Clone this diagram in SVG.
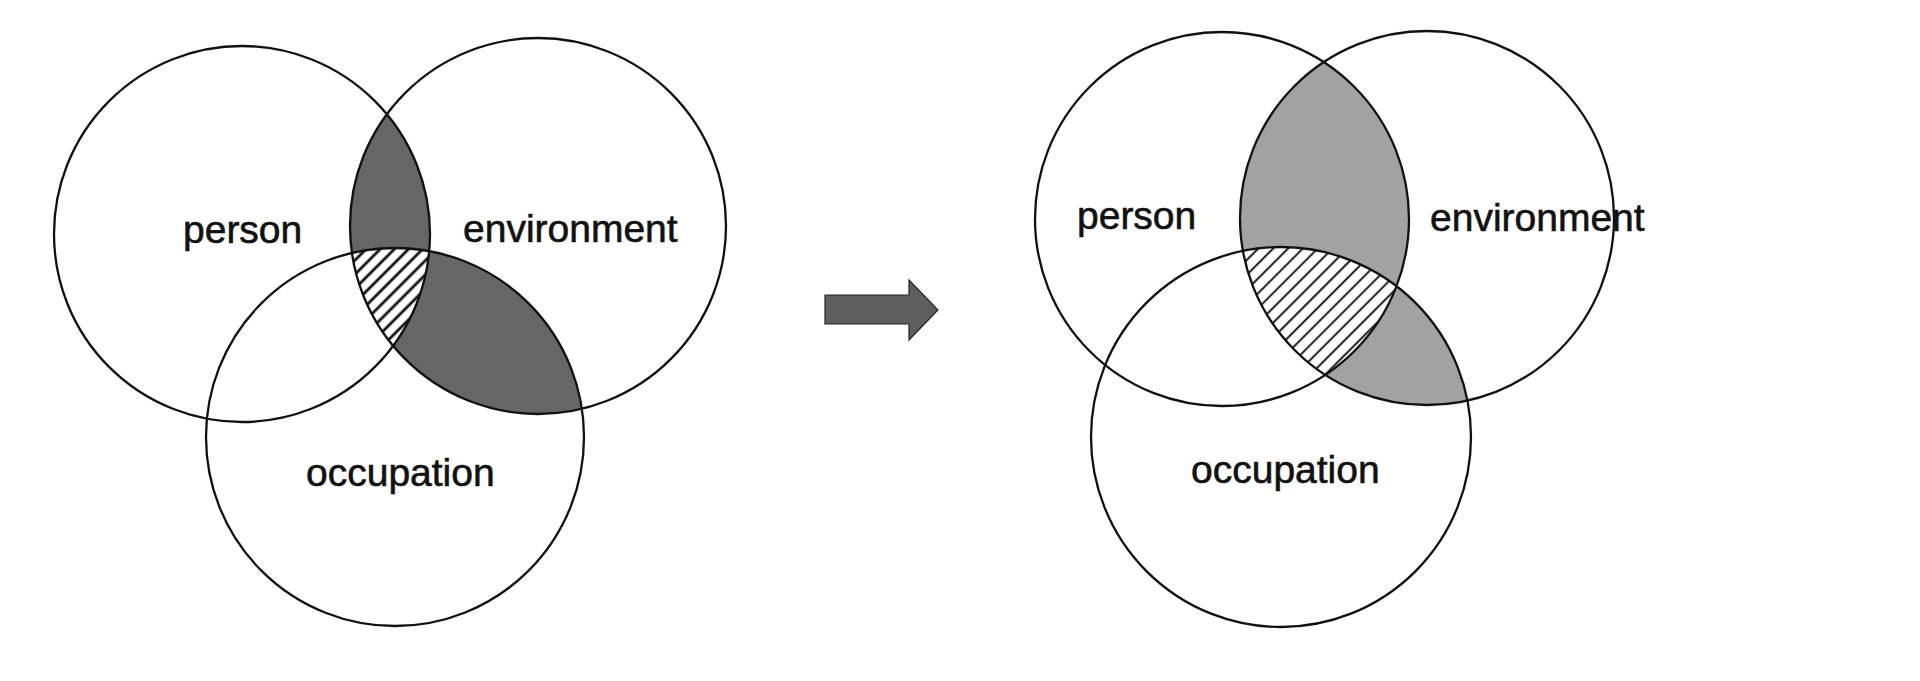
<svg xmlns="http://www.w3.org/2000/svg" width="1920" height="681" viewBox="0 0 1920 681">
  <style>
    .ring { fill: none; stroke: #111; stroke-width: 2.3; }
    .lbl { font-family: "Liberation Sans", Arial, sans-serif; font-size: 39px; fill: #111; stroke: #111; stroke-width: 0.6; }
    .darkfill { fill: #666; }
    .lightfill { fill: #a2a2a2; }
  </style>
  <defs>
    <pattern id="hatchL" patternUnits="userSpaceOnUse" width="10" height="10" patternTransform="rotate(45)">
      <rect width="10" height="10" fill="#fff"/>
      <line x1="5" y1="0" x2="5" y2="10" stroke="#111" stroke-width="2.8"/>
    </pattern>
    <pattern id="hatchR" patternUnits="userSpaceOnUse" width="10.5" height="10.5" patternTransform="rotate(45)">
      <rect width="10.5" height="10.5" fill="#fff"/>
      <line x1="5" y1="0" x2="5" y2="10.5" stroke="#111" stroke-width="1.9"/>
    </pattern>
    <clipPath id="cPL"><circle cx="242" cy="234" r="188"/></clipPath>
    <clipPath id="cOL"><circle cx="395" cy="437" r="189"/></clipPath>
    <clipPath id="cPR"><circle cx="1222" cy="219" r="187"/></clipPath>
    <clipPath id="cOR"><circle cx="1281" cy="437" r="190"/></clipPath>
  </defs>
  <rect width="1920" height="681" fill="#fff"/>

  <!-- Left diagram shading -->
  <g id="left-shading">
    <g clip-path="url(#cPL)"><circle class="darkfill" cx="538" cy="226" r="188"/></g>
    <g clip-path="url(#cOL)"><circle class="darkfill" cx="538" cy="226" r="188"/></g>
    <g clip-path="url(#cOL)"><g clip-path="url(#cPL)"><circle fill="url(#hatchL)" cx="538" cy="226" r="188"/></g></g>
  </g>

  <!-- Right diagram shading -->
  <g id="right-shading">
    <g clip-path="url(#cPR)"><circle class="lightfill" cx="1427" cy="218" r="187"/></g>
    <g clip-path="url(#cOR)"><circle class="lightfill" cx="1427" cy="218" r="187"/></g>
    <g clip-path="url(#cOR)"><g clip-path="url(#cPR)"><circle fill="url(#hatchR)" cx="1427" cy="218" r="187"/></g></g>
  </g>

  <!-- Left diagram nodes -->
  <g id="left-person">
    <circle class="ring" cx="242" cy="234" r="188"/>
    <text class="lbl" x="183" y="243">person</text>
  </g>
  <g id="left-environment">
    <circle class="ring" cx="538" cy="226" r="188"/>
    <text class="lbl" x="463" y="242">environment</text>
  </g>
  <g id="left-occupation">
    <circle class="ring" cx="395" cy="437" r="189"/>
    <text class="lbl" x="306" y="486">occupation</text>
  </g>

  <!-- Right diagram nodes -->
  <g id="right-person">
    <circle class="ring" cx="1222" cy="219" r="187"/>
    <text class="lbl" x="1077" y="229">person</text>
  </g>
  <g id="right-environment">
    <circle class="ring" cx="1427" cy="218" r="187"/>
    <text class="lbl" x="1430" y="231">environment</text>
  </g>
  <g id="right-occupation">
    <circle class="ring" cx="1281" cy="437" r="190"/>
    <text class="lbl" x="1191" y="483">occupation</text>
  </g>

  <!-- Connectors -->
  <g id="connectors">
    <path d="M825,295 L909,295 L909,280 L938,310 L909,340 L909,324 L825,324 Z" fill="#5e5e5e" stroke="#222" stroke-width="1.2"/>
  </g>
</svg>
